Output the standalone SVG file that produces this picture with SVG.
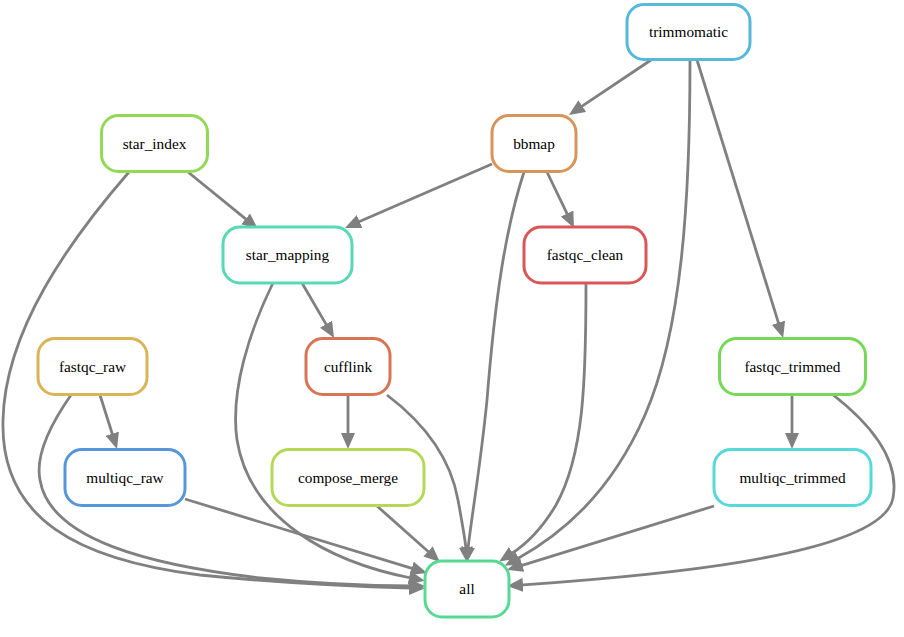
<svg xmlns="http://www.w3.org/2000/svg" width="904" height="637" viewBox="0 0 904 637">
<defs>
<style>
.node rect{fill:#fff;stroke-width:3}
.node text{font-size:15.3px;fill:#000;text-anchor:middle}
.edge{fill:none;stroke:#808080;stroke-width:2.8;marker-end:url(#ah)}
</style>
<marker id="ah" viewBox="0 0 16 14" refX="2" refY="7" markerWidth="16" markerHeight="14" markerUnits="userSpaceOnUse" orient="auto">
<path d="M0,0 L16,7 L0,14 z" fill="#808080"/>
</marker>
</defs>
<rect width="904" height="637" fill="#fff"/>
<g id="connectors">
<path class="edge" d="M651,60 L580.6,107.2"/>
<path class="edge" d="M697,60 L779,324.6"/>
<path class="edge" d="M690,60 C690,200 682,330 645,415 C610,495 560,535 517,559"/>
<path class="edge" d="M586,283 C586,380 584,455 556,505 C540,532 525,545 511,554"/>
<path class="edge" d="M714,506 L520.4,565.8"/>
<path class="edge" d="M832,394 C872,425 900,460 893,498 C882,560 620,578 521,585"/>
<path class="edge" d="M792,394 L792,435"/>
<path class="edge" d="M547,172 L567.9,215.4"/>
<path class="edge" d="M492,164 L357.8,222.3"/>
<path class="edge" d="M188,172 L247.1,220.2"/>
<path class="edge" d="M524,172 C505,230 495,300 487,400 C480,470 471,520 468,549"/>
<path class="edge" d="M387,395 C420,420 450,455 458,500 C462,522 465,538 466,549"/>
<path class="edge" d="M302,283 L327,325.9"/>
<path class="edge" d="M273,283 C250,330 230,390 237,440 C250,520 330,562 411,578"/>
<path class="edge" d="M129,172 C70,240 5,330 3,420 C0,520 80,560 200,575 C300,585 370,587 411,588"/>
<path class="edge" d="M71,395 C50,425 35,455 40,480 C50,540 150,565 260,578 C330,585 375,586 411,586"/>
<path class="edge" d="M185,499 L413.6,568.9"/>
<path class="edge" d="M377,506 L429.5,552.7"/>
<path class="edge" d="M348,394 L348,435"/>
<path class="edge" d="M100,395 L112.8,435.6"/>
</g>
<g font-family="'Liberation Serif', 'Times New Roman', 'DejaVu Serif', serif">
<g id="trimmomatic" class="node"><rect x="627" y="4.5" width="123" height="55" rx="17" stroke="#57b9d9"/><text x="688.5" y="37">trimmomatic</text></g>
<g id="bbmap" class="node"><rect x="492" y="115.5" width="84" height="56" rx="17" stroke="#d99457"/><text x="534" y="148.5">bbmap</text></g>
<g id="star_index" class="node"><rect x="101.5" y="115.5" width="106" height="56" rx="17" stroke="#93d957"/><text x="154.5" y="148.5">star_index</text></g>
<g id="star_mapping" class="node"><rect x="223" y="227" width="129" height="56" rx="17" stroke="#57d9b5"/><text x="287.5" y="260">star_mapping</text></g>
<g id="fastqc_clean" class="node"><rect x="524" y="227" width="122" height="56" rx="17" stroke="#d95757"/><text x="585" y="260">fastqc_clean</text></g>
<g id="fastqc_raw" class="node"><rect x="38" y="338.5" width="109" height="56" rx="17" stroke="#d9b557"/><text x="92.5" y="371.5">fastqc_raw</text></g>
<g id="cufflink" class="node"><rect x="306" y="338.5" width="84" height="56" rx="17" stroke="#d97557"/><text x="348" y="371.5">cufflink</text></g>
<g id="fastqc_trimmed" class="node"><rect x="719.5" y="338.5" width="146" height="56" rx="17" stroke="#75d957"/><text x="792.5" y="371.5">fastqc_trimmed</text></g>
<g id="multiqc_raw" class="node"><rect x="65" y="449.5" width="120" height="56" rx="17" stroke="#5797d9"/><text x="125" y="482.5">multiqc_raw</text></g>
<g id="compose_merge" class="node"><rect x="272" y="449.5" width="152" height="56" rx="17" stroke="#b5d957"/><text x="348" y="482.5">compose_merge</text></g>
<g id="multiqc_trimmed" class="node"><rect x="714" y="449.5" width="157" height="56" rx="17" stroke="#57d9d9"/><text x="792.5" y="482.5">multiqc_trimmed</text></g>
<g id="all" class="node"><rect x="425" y="561" width="84" height="56" rx="17" stroke="#57d993"/><text x="467" y="594">all</text></g>
</g>
</svg>
